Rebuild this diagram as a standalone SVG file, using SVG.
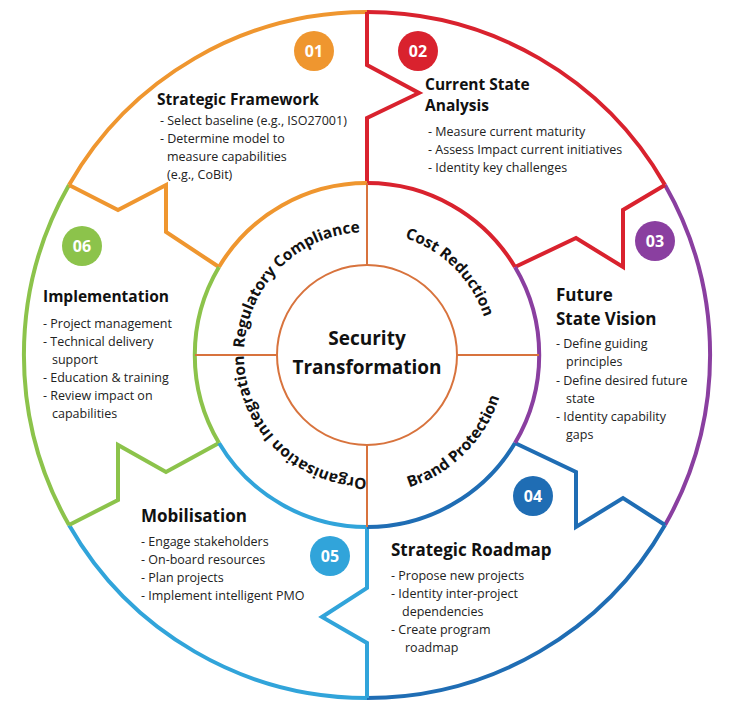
<svg xmlns="http://www.w3.org/2000/svg" width="734" height="705" viewBox="0 0 734 705">
<style>
.b{fill:none;stroke-width:4;stroke-linejoin:miter}
.t{font-family:"Open Sans","Liberation Sans",sans-serif;font-weight:bold;font-size:15.5px;fill:#111}
.l{font-family:"Open Sans","Liberation Sans",sans-serif;font-size:12.5px;fill:#222}
.n{font-family:"Open Sans","Liberation Sans",sans-serif;font-weight:bold;font-size:16px;fill:#fff;text-anchor:middle}
.c{font-family:"Open Sans","Liberation Sans",sans-serif;font-weight:bold;font-size:15.5px;fill:#111}
.or{stroke:#ef962f}.rd{stroke:#d9222e}.pu{stroke:#8a3fa0}.bl{stroke:#1f6db4}.lb{stroke:#31a4da}.gr{stroke:#8cc34b}
</style>
<defs>
<path id="p1" d="M244,355 A123,123 0 0 1 367,232"/>
<path id="p2" d="M367,232 A123,123 0 0 1 490,355"/>
<path id="p3" d="M367,494 A139,139 0 0 0 506,355"/>
<path id="p4" d="M367,478 A123,123 0 0 1 244,355"/>
</defs>
<rect width="734" height="705" fill="#fff"/>
<g id="connectors">
<path class="b or" d="M69,185 A343,343 0 0 1 367,12"/>
<path class="b rd" d="M367,12 A343,343 0 0 1 665,185"/>
<path class="b pu" d="M665,185 A343,343 0 0 1 665,525"/>
<path class="b bl" d="M665,525 A343,343 0 0 1 367,698"/>
<path class="b lb" d="M367,698 A343,343 0 0 1 69,525"/>
<path class="b gr" d="M69,525 A343,343 0 0 1 69,185"/>
<path class="b rd" d="M367,12 L367,65 L419,93 L367,118 L367,183"/>
<path class="b rd" d="M665,185 L623,210 L623,267 L576,238 L515,267"/>
<path class="b bl" d="M515,443 L576,472 L576,527 L623,498 L665,525"/>
<path class="b lb" d="M367,527 L367,588 L322,617 L367,643 L367,698"/>
<path class="b gr" d="M219,443 L166,472 L118,445 L118,500 L69,525"/>
<path class="b or" d="M69,185 L118,210 L166,185 L166,232 L219,267"/>
<path class="b or" d="M219,267 A172,172 0 0 1 367,183"/>
<path class="b rd" d="M367,183 A172,172 0 0 1 515,267"/>
<path class="b pu" d="M515,267 A172,172 0 0 1 515,443"/>
<path class="b bl" d="M515,443 A172,172 0 0 1 367,527"/>
<path class="b lb" d="M367,527 A172,172 0 0 1 219,443"/>
<path class="b gr" d="M219,443 A172,172 0 0 1 219,267"/>
<g stroke="#d8733d" stroke-width="2" fill="none">
<circle cx="367" cy="355" r="90"/>
<path d="M367,183 V265 M367,445 V527 M195,355 H277 M457,355 H539"/>
</g>
</g>
<g id="center">
<text class="t" x="367" y="345" text-anchor="middle" style="font-size:19px">Security</text>
<text class="t" x="367" y="374" text-anchor="middle" style="font-size:19px">Transformation</text>
</g>
<g id="ring">
<text class="c"><textPath href="#p1" startOffset="50%" text-anchor="middle">Regulatory Compliance</textPath></text>
<text class="c"><textPath href="#p2" startOffset="50%" text-anchor="middle">Cost Reduction</textPath></text>
<text class="c"><textPath href="#p3" startOffset="50%" text-anchor="middle">Brand Protection</textPath></text>
<text class="c"><textPath href="#p4" startOffset="50%" text-anchor="middle">Organisation Integration</textPath></text>
</g>
<g id="s01">
<circle cx="314" cy="51" r="20" fill="#ef962f"/><text class="n" x="314" y="57">01</text>
<text class="t" x="157" y="105">Strategic Framework</text>
<text class="l" x="160" y="125">- Select baseline (e.g., ISO27001)</text>
<text class="l" x="160" y="143">- Determine model to</text>
<text class="l" x="167" y="161">measure capabilities</text>
<text class="l" x="167" y="179">(e.g., CoBit)</text>
</g>
<g id="s02">
<circle cx="418" cy="51" r="20" fill="#d9222e"/><text class="n" x="418" y="57">02</text>
<text class="t" x="425" y="90">Current State</text>
<text class="t" x="425" y="111">Analysis</text>
<text class="l" x="428" y="136">- Measure current maturity</text>
<text class="l" x="428" y="154">- Assess Impact current initiatives</text>
<text class="l" x="428" y="172">- Identity key challenges</text>
</g>
<g id="s03">
<circle cx="655" cy="241" r="20" fill="#8a3fa0"/><text class="n" x="655" y="247">03</text>
<text class="t" x="556" y="301" style="font-size:17px">Future</text>
<text class="t" x="556" y="325" style="font-size:17px">State Vision</text>
<text class="l" x="556" y="348">- Define guiding</text>
<text class="l" x="566" y="366">principles</text>
<text class="l" x="556" y="385">- Define desired future</text>
<text class="l" x="566" y="403">state</text>
<text class="l" x="556" y="421">- Identity capability</text>
<text class="l" x="566" y="439">gaps</text>
</g>
<g id="s04">
<circle cx="533" cy="496" r="20" fill="#1f6db4"/><text class="n" x="533" y="502">04</text>
<text class="t" x="391" y="556" style="font-size:17px">Strategic Roadmap</text>
<text class="l" x="391" y="580">- Propose new projects</text>
<text class="l" x="391" y="598">- Identity inter-project</text>
<text class="l" x="402" y="616">dependencies</text>
<text class="l" x="391" y="634">- Create program</text>
<text class="l" x="405" y="652">roadmap</text>
</g>
<g id="s05">
<circle cx="330" cy="556" r="20" fill="#31a4da"/><text class="n" x="330" y="562">05</text>
<text class="t" x="141" y="522" style="font-size:17px">Mobilisation</text>
<text class="l" x="141" y="546">- Engage stakeholders</text>
<text class="l" x="141" y="564">- On-board resources</text>
<text class="l" x="141" y="582">- Plan projects</text>
<text class="l" x="141" y="600">- Implement intelligent PMO</text>
</g>
<g id="s06">
<circle cx="82" cy="246" r="20" fill="#8cc34b"/><text class="n" x="82" y="252">06</text>
<text class="t" x="43" y="302">Implementation</text>
<text class="l" x="43" y="328">- Project management</text>
<text class="l" x="43" y="346">- Technical delivery</text>
<text class="l" x="52" y="364">support</text>
<text class="l" x="43" y="382">- Education &amp; training</text>
<text class="l" x="43" y="400">- Review impact on</text>
<text class="l" x="52" y="418">capabilities</text>
</g>
</svg>
